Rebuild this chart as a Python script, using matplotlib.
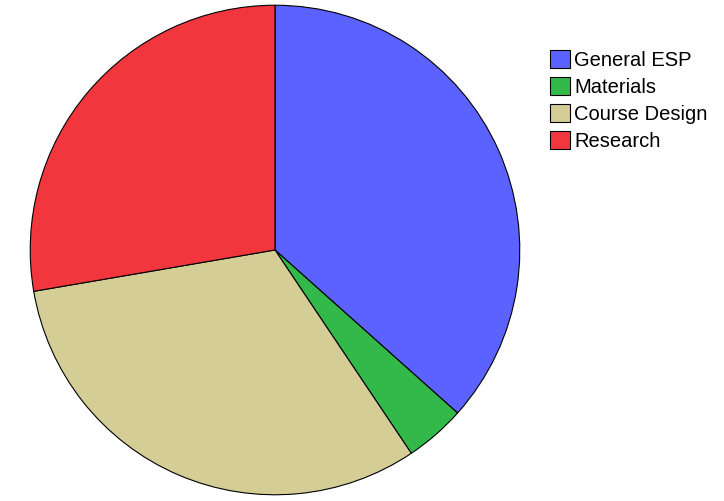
import matplotlib.pyplot as plt
from matplotlib.patches import Patch

labels = ["General ESP", "Materials", "Course Design", "Research"]
values = [36.6, 4.0, 31.7, 27.7]
colors = ["#5C62FF", "#33B84A", "#D4CD96", "#F2363D"]

fig = plt.figure(figsize=(7.24, 5.01), dpi=100)
ax = fig.add_axes([29 / 724, 5 / 501, 492 / 724, 492 / 501])
ax.pie(values, colors=colors, startangle=90, counterclock=False, radius=1,
       wedgeprops=dict(edgecolor="black", linewidth=0.8))
ax.set_xlim(-1.005, 1.005)
ax.set_ylim(-1.005, 1.005)
ax.set_aspect("equal")

handles = [Patch(facecolor=c, edgecolor="black", linewidth=0.8) for c in colors]
fig.legend(handles, labels, loc="upper left", bbox_to_anchor=(542 / 724, 1 - 42 / 501),
           frameon=False, handlelength=1.0, handleheight=1.0,
           handletextpad=0.2, labelspacing=0.35, borderaxespad=0,
           prop={"family": "Liberation Sans", "size": 14.5})

fig.savefig("out.png", dpi=100)
